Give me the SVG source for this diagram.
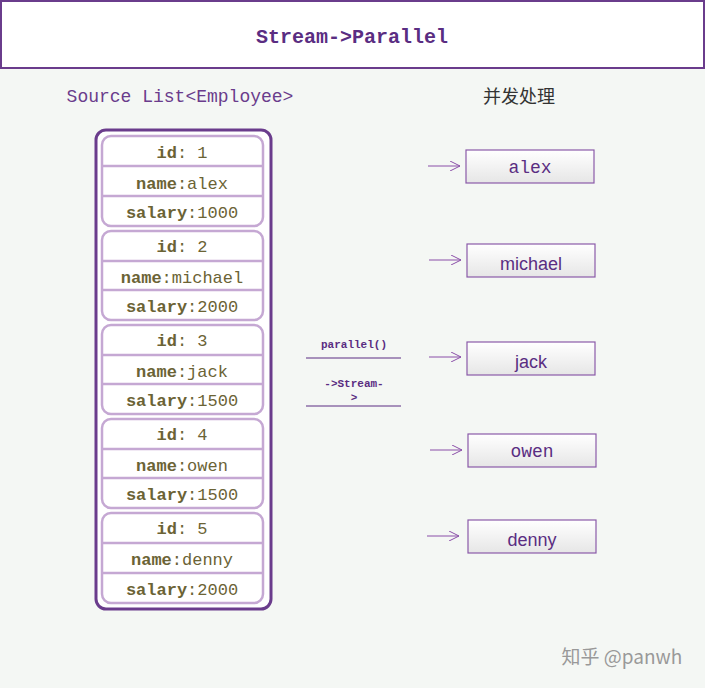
<svg xmlns="http://www.w3.org/2000/svg" width="705" height="688" viewBox="0 0 705 688">
<defs>
<linearGradient id="g" x1="0" y1="0" x2="0" y2="1"><stop offset="0" stop-color="#ffffff"/><stop offset="1" stop-color="#e6e6e6"/></linearGradient>
<marker id="a" viewBox="0 0 10 10" refX="10" refY="5" markerWidth="10" markerHeight="10" markerUnits="userSpaceOnUse" orient="auto"><path d="M0,0 L10,5 L0,10" fill="none" stroke="#8a4fa8" stroke-width="1"/></marker>
<style>
.mono{font-family:"Liberation Mono","DejaVu Sans Mono",monospace}
.rec{fill:#fff;stroke:#c5a8d3;stroke-width:2.5}
.row{stroke:#c5a8d3;stroke-width:2.5}
.ft{font-family:"Liberation Mono",monospace;font-size:17px;fill:#6b6335;text-anchor:middle}
.ft tspan.k{font-weight:bold}
.bx{fill:url(#g);stroke:#8a5aa8;stroke-width:1.2}
.bt{font-size:18px;fill:#5a2d82;text-anchor:middle}
.ar{stroke:#8a4fa8;stroke-width:1;fill:none}
</style>
</defs>
<rect width="705" height="688" fill="#f4f7f4"/>
<g id="title"><rect x="1" y="1" width="703" height="67" fill="#fff" stroke="#6a3c8c" stroke-width="2"/>
<text x="352" y="43" class="mono" font-size="20" font-weight="bold" fill="#5a2d82" text-anchor="middle">Stream-&gt;Parallel</text></g>
<text x="180" y="102" class="mono" font-size="18" fill="#6a3c8c" text-anchor="middle">Source List&lt;Employee&gt;</text>
<text x="519" y="103" font-family="'Noto Sans CJK SC',sans-serif" font-size="18" fill="#333" text-anchor="middle">并发处理</text>
<g id="list">
<rect x="96" y="130" width="175" height="479" rx="10" fill="#fff" stroke="#6a3c8c" stroke-width="3"/>
<g id="r1"><rect class="rec" x="102" y="136" width="161" height="90" rx="9"/><line class="row" x1="102" y1="166" x2="263" y2="166"/><line class="row" x1="102" y1="196" x2="263" y2="196"/>
<text class="ft" x="182" y="158"><tspan class="k">id</tspan>: 1</text><text class="ft" x="182" y="189"><tspan class="k">name</tspan>:alex</text><text class="ft" x="182" y="218"><tspan class="k">salary</tspan>:1000</text></g>
<g id="r2"><rect class="rec" x="102" y="231" width="161" height="89" rx="9"/><line class="row" x1="102" y1="261" x2="263" y2="261"/><line class="row" x1="102" y1="290" x2="263" y2="290"/>
<text class="ft" x="182" y="252"><tspan class="k">id</tspan>: 2</text><text class="ft" x="182" y="283"><tspan class="k">name</tspan>:michael</text><text class="ft" x="182" y="312"><tspan class="k">salary</tspan>:2000</text></g>
<g id="r3"><rect class="rec" x="102" y="325" width="161" height="89" rx="9"/><line class="row" x1="102" y1="355" x2="263" y2="355"/><line class="row" x1="102" y1="384" x2="263" y2="384"/>
<text class="ft" x="182" y="346"><tspan class="k">id</tspan>: 3</text><text class="ft" x="182" y="377"><tspan class="k">name</tspan>:jack</text><text class="ft" x="182" y="406"><tspan class="k">salary</tspan>:1500</text></g>
<g id="r4"><rect class="rec" x="102" y="419" width="161" height="89" rx="9"/><line class="row" x1="102" y1="449" x2="263" y2="449"/><line class="row" x1="102" y1="478" x2="263" y2="478"/>
<text class="ft" x="182" y="440"><tspan class="k">id</tspan>: 4</text><text class="ft" x="182" y="471"><tspan class="k">name</tspan>:owen</text><text class="ft" x="182" y="500"><tspan class="k">salary</tspan>:1500</text></g>
<g id="r5"><rect class="rec" x="102" y="513" width="161" height="90" rx="9"/><line class="row" x1="102" y1="543" x2="263" y2="543"/><line class="row" x1="102" y1="573" x2="263" y2="573"/>
<text class="ft" x="182" y="534"><tspan class="k">id</tspan>: 5</text><text class="ft" x="182" y="565"><tspan class="k">name</tspan>:denny</text><text class="ft" x="182" y="595"><tspan class="k">salary</tspan>:2000</text></g>
</g>
<g id="op">
<text x="354" y="348" class="mono" font-size="11" font-weight="bold" fill="#5a2d82" text-anchor="middle">parallel()</text>
<line x1="306" y1="358" x2="401" y2="358" stroke="#5a2d82"/>
<text x="354" y="387" class="mono" font-size="11" font-weight="bold" fill="#5a2d82" text-anchor="middle">-&gt;Stream-</text>
<text x="354" y="401" class="mono" font-size="11" font-weight="bold" fill="#5a2d82" text-anchor="middle">&gt;</text>
<line x1="306" y1="406" x2="401" y2="406" stroke="#5a2d82"/>
</g>
<g id="connectors">
<line class="ar" x1="428" y1="166" x2="460" y2="166" marker-end="url(#a)"/>
<line class="ar" x1="429" y1="260" x2="461" y2="260" marker-end="url(#a)"/>
<line class="ar" x1="429" y1="357" x2="461" y2="357" marker-end="url(#a)"/>
<line class="ar" x1="430" y1="450" x2="462" y2="450" marker-end="url(#a)"/>
<line class="ar" x1="427" y1="536" x2="459" y2="536" marker-end="url(#a)"/>
</g>
<g id="alex"><rect class="bx" x="466" y="150" width="128" height="33"/><text class="bt mono" x="530" y="173">alex</text></g>
<g id="michael"><rect class="bx" x="467" y="244" width="128" height="33"/><text class="bt" font-family="'Liberation Sans',sans-serif" x="531" y="270">michael</text></g>
<g id="jack"><rect class="bx" x="467" y="342" width="128" height="33"/><text class="bt" font-family="'Liberation Sans',sans-serif" x="531" y="368">jack</text></g>
<g id="owen"><rect class="bx" x="468" y="434" width="128" height="33"/><text class="bt mono" x="532" y="457">owen</text></g>
<g id="denny"><rect class="bx" x="468" y="520" width="128" height="33"/><text class="bt" font-family="'Liberation Sans',sans-serif" x="532" y="546">denny</text></g>
<text x="622" y="664" font-family="'Noto Sans CJK SC',sans-serif" font-size="19" fill="#999" text-anchor="middle">知乎 @panwh</text>
</svg>
